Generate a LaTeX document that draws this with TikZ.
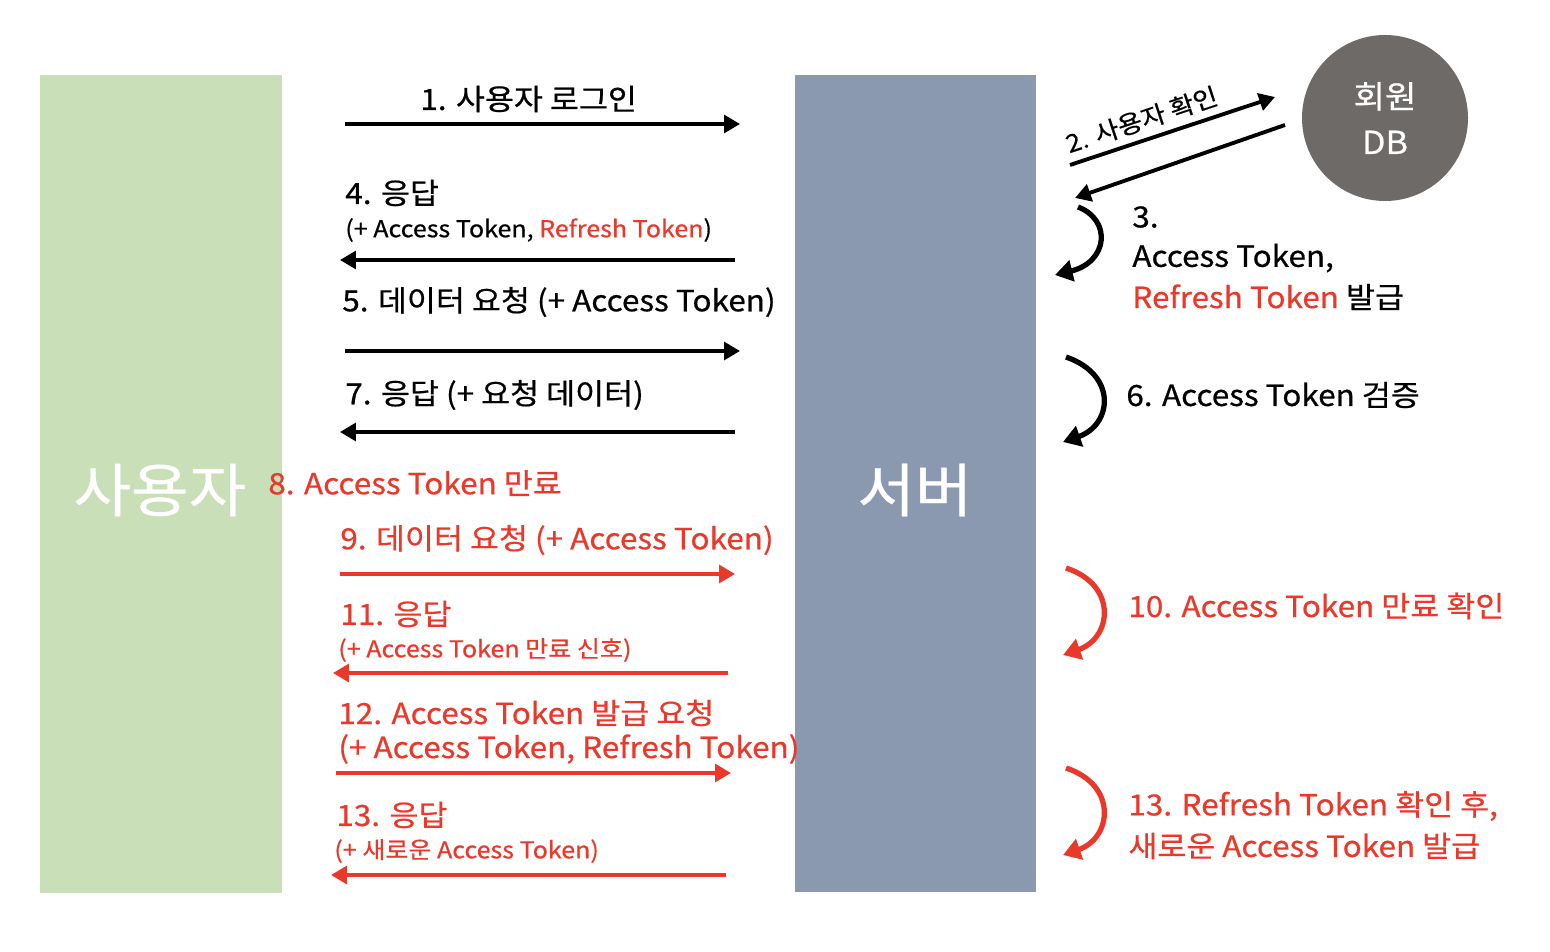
\documentclass[tikz,border=0pt]{standalone}
\usepackage{fontspec}
\setmainfont{Noto Sans CJK KR}[FakeStretch=1.08,FakeBold=0.6]
\usetikzlibrary{arrows.meta}
\definecolor{ured}{HTML}{E8392B}
\definecolor{ugreen}{HTML}{C9DFB8}
\definecolor{userv}{HTML}{8A99B0}
\definecolor{udb}{HTML}{6E6A67}
\begin{document}
\begin{tikzpicture}[x=0.02cm,y=-0.02cm,
  arr/.style={line width=2.2pt,-{Triangle[length=9pt,width=10pt]}},
  curv/.style={line width=3pt,-{Triangle[length=10pt,width=12pt]}},
  lab/.style={anchor=west,inner sep=0pt,font=\fontsize{16.6}{18}\selectfont},
  sub/.style={anchor=west,inner sep=0pt,font=\fontsize{13.2}{15}\selectfont}]
\useasboundingbox (0,0) rectangle (1550,952);
\node[fill=ugreen,minimum width=242*0.02cm,minimum height=818*0.02cm,anchor=north west,inner sep=0] (user) at (40,75) {};
\node[text=white,font=\fontsize{33}{36}\selectfont] (ut) at (160,490) {사용자};
\node[fill=userv,minimum width=241*0.02cm,minimum height=817*0.02cm,anchor=north west,inner sep=0] (serv) at (795,75) {};
\node[text=white,font=\fontsize{33}{36}\selectfont] (st) at (915,490) {서버};
\node[circle,fill=udb,minimum size=166*0.02cm,text=white,align=center,font=\fontsize{18}{26}\selectfont] (db) at (1385,118) {회원\\DB};
\coordinate (a1s) at (345,124); \coordinate (a1e) at (740,124);
\coordinate (a4s) at (735,260); \coordinate (a4e) at (340,260);
\coordinate (a5s) at (345,351); \coordinate (a5e) at (740,351);
\coordinate (a7s) at (735,432); \coordinate (a7e) at (340,432);
\coordinate (a9s) at (340,574); \coordinate (a9e) at (735,574);
\coordinate (a11s) at (728,673); \coordinate (a11e) at (333,673);
\coordinate (a12s) at (336,773); \coordinate (a12e) at (731,773);
\coordinate (a13s) at (726,875); \coordinate (a13e) at (331,875);
\draw[arr] (a1s) -- (a1e);
\draw[arr] (a4s) -- (a4e);
\draw[arr] (a5s) -- (a5e);
\draw[arr] (a7s) -- (a7e);
\draw[arr,ured] (a9s) -- (a9e);
\draw[arr,ured] (a11s) -- (a11e);
\draw[arr,ured] (a12s) -- (a12e);
\draw[arr,ured] (a13s) -- (a13e);
\node[lab] (l1) at (420,99) {1. 사용자 로그인};
\node[lab] (l4) at (345,193) {4. 응답};
\node[sub] (l4b) at (345,230) {(+ Access Token, \textcolor{ured}{Refresh Token})};
\node[lab] (l5) at (342,302) {5. 데이터 요청 (+ Access Token)};
\node[lab] (l7) at (345,395) {7. 응답 (+ 요청 데이터)};
\node[lab,text=ured] (l8) at (268,483) {8. Access Token 만료};
\node[lab,text=ured] (l9) at (340,540) {9. 데이터 요청 (+ Access Token)};
\node[lab,text=ured] (l11) at (340,614) {11. 응답};
\node[sub,text=ured] (l11b) at (338,650) {(+ Access Token 만료 신호)};
\node[lab,text=ured] (l12) at (338,713) {12. Access Token 발급 요청};
\node[lab,text=ured] (l12b) at (338,749) {(+ Access Token, Refresh Token)};
\node[lab,text=ured] (l13) at (336,815) {13. 응답};
\node[sub,text=ured] (l13b) at (334,851) {(+ 새로운 Access Token)};
\coordinate (d2s) at (1070,165); \coordinate (d2e) at (1275,97);
\coordinate (d3s) at (1285,125); \coordinate (d3e) at (1075,198);
\draw[arr] (d2s) -- (d2e);
\draw[arr] (d3s) -- (d3e);
\node[anchor=south,inner sep=5pt,rotate=18.3,font=\fontsize{14}{16}\selectfont] (l2) at (1148,139) {2. 사용자 확인};
\coordinate (c3s) at (1078,207); \coordinate (c3e) at (1055,275);
\draw[curv] (c3s) .. controls (1112,220) and (1108,262) .. (c3e);
\coordinate (c6s) at (1066,357); \coordinate (c6e) at (1063,442);
\draw[curv] (c6s) .. controls (1118,375) and (1112,425) .. (c6e);
\coordinate (c10s) at (1066,568); \coordinate (c10e) at (1063,655);
\draw[curv,ured] (c10s) .. controls (1118,585) and (1112,638) .. (c10e);
\coordinate (c13s) at (1066,768); \coordinate (c13e) at (1063,855);
\draw[curv,ured] (c13s) .. controls (1118,785) and (1112,838) .. (c13e);
\node[lab] (l3a) at (1132,217) {3.};
\node[lab] (l3b) at (1132,258) {Access Token,};
\node[lab] (l3c) at (1132,297) {\textcolor{ured}{Refresh Token} 발급};
\node[lab] (l6) at (1126,395) {6. Access Token 검증};
\node[lab,text=ured] (l10) at (1128,606) {10. Access Token 만료 확인};
\node[lab,text=ured] (l13c) at (1128,806) {13. Refresh Token 확인 후,};
\node[lab,text=ured] (l13d) at (1128,846) {새로운 Access Token 발급};
\end{tikzpicture}
\end{document}
